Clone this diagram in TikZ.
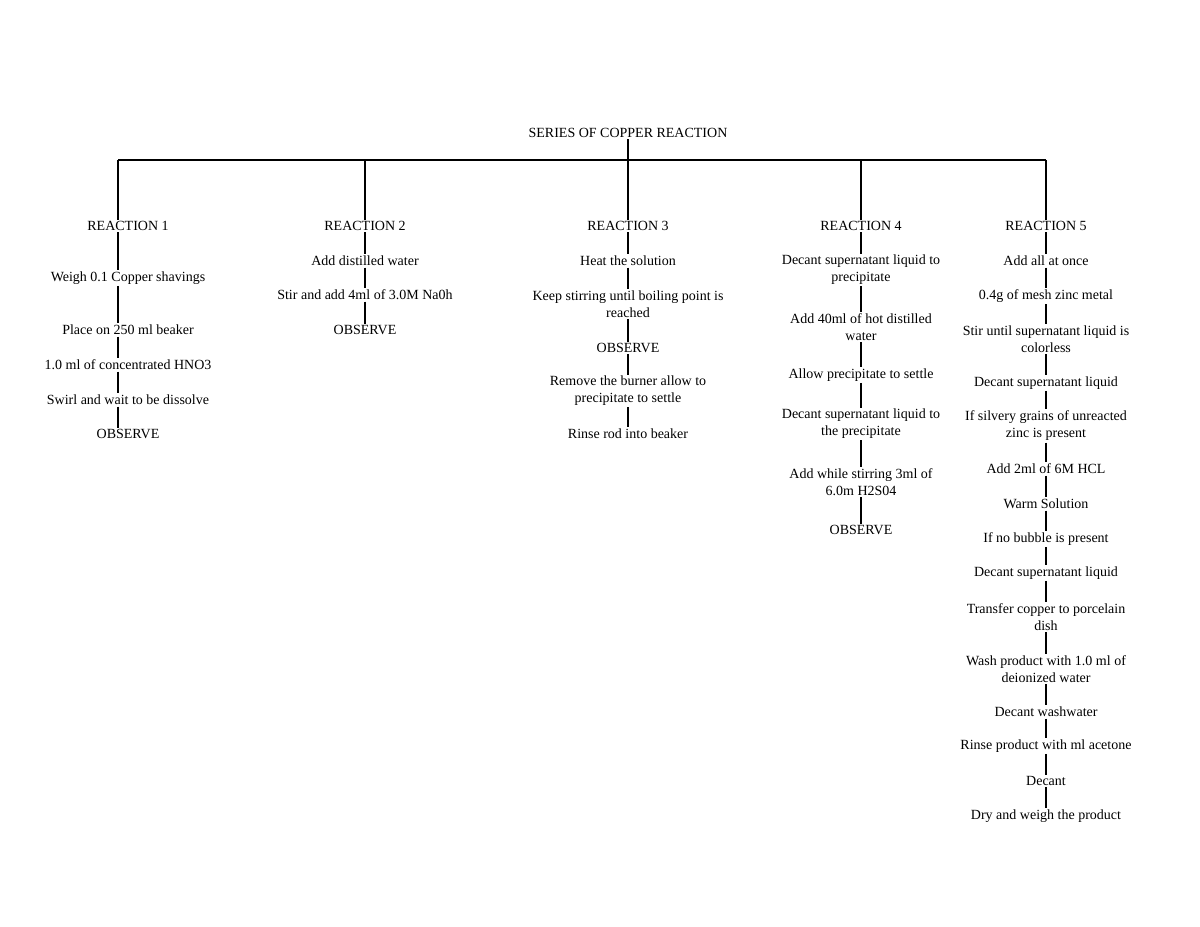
\documentclass[tikz,border=0pt]{standalone}
\usepackage{fontspec}
\setmainfont{Liberation Serif}
\begin{document}
\begin{tikzpicture}[x=0.75pt,y=-0.75pt,
  t/.style={inner sep=1pt,align=center,font=\fontsize{10.5}{12.8}\selectfont},
  ln/.style={line width=1.5pt}]
\useasboundingbox (0,0) rectangle (1200,927);
\node[t] (title) at (628,133) {SERIES OF COPPER REACTION};
\coordinate (bar) at (628,160);
\coordinate (bl) at (118,160);
\coordinate (br) at (1046,160);
\coordinate (b2) at (365,160);
\coordinate (b4) at (861,160);
% column 1
\node[t] (a0) at (128,226) {REACTION 1};
\node[t] (a1) at (128,278) {Weigh 0.1 Copper shavings};
\node[t] (a2) at (128,330) {Place on 250 ml beaker};
\node[t] (a3) at (128,365) {1.0 ml of concentrated HNO3};
\node[t] (a4) at (128,400) {Swirl and wait to be dissolve};
\node[t] (a5) at (128,434) {OBSERVE};
% column 2
\node[t] (b0) at (365,226) {REACTION 2};
\node[t] (b1) at (365,261) {Add distilled water};
\node[t] (b2n) at (365,295) {Stir and add 4ml  of 3.0M Na0h};
\node[t] (b3) at (365,330) {OBSERVE};
% column 3
\node[t] (c0) at (628,226) {REACTION 3};
\node[t] (c1) at (628,261) {Heat the solution};
\node[t] (c2) at (628,304) {Keep stirring until boiling point is\\reached};
\node[t] (c3) at (628,348) {OBSERVE};
\node[t] (c4) at (628,391) {Remove the burner allow to\\precipitate to settle};
\node[t] (c5) at (628,434) {Rinse rod into beaker};
% column 4
\node[t] (d0) at (861,226) {REACTION 4};
\node[t] (d1) at (861,270) {Decant supernatant liquid to\\precipitate};
\node[t] (d2) at (861,327) {Add 40ml of hot distilled\\water};
\node[t] (d3) at (861,375) {Allow precipitate to settle};
\node[t] (d4) at (861,424) {Decant supernatant liquid to\\the precipitate};
\node[t] (d5) at (861,482) {Add while stirring 3ml  of\\6.0m H2S04};
\node[t] (d6) at (861,530) {OBSERVE};
% column 5
\node[t] (e0) at (1046,226) {REACTION 5};
\node[t] (e1) at (1046,261) {Add all at once};
\node[t] (e2) at (1046,296) {0.4g of mesh zinc metal};
\node[t] (e3) at (1046,339) {Stir until supernatant liquid is\\colorless};
\node[t] (e4) at (1046,383) {Decant supernatant liquid};
\node[t] (e5) at (1046,426) {If silvery grains of unreacted\\zinc is present};
\node[t] (e6) at (1046,469) {Add 2ml of 6M HCL};
\node[t] (e7) at (1046,504) {Warm Solution};
\node[t] (e8) at (1046,539) {If no bubble is present};
\node[t] (e9) at (1046,573) {Decant supernatant liquid};
\node[t] (e10) at (1046,617) {Transfer copper to porcelain\\dish};
\node[t] (e11) at (1046,669) {Wash product with 1.0 ml of\\deionized water};
\node[t] (e12) at (1046,712) {Decant washwater};
\node[t] (e13) at (1046,746) {Rinse product with ml acetone};
\node[t] (e14) at (1046,781) {Decant};
\node[t] (e15) at (1046,816) {Dry and weigh the product};
% tree
\draw[ln] (title.south) -- (bar);
\draw[ln] (bl) -- (br);
\draw[ln] (bl) -- (bl |- a0.north);
\draw[ln] (b2) -- (b0.north);
\draw[ln] (bar) -- (c0.north);
\draw[ln] (b4) -- (d0.north);
\draw[ln] (br) -- (e0.north);
\foreach \u/\v in {a0/a1,a1/a2,a2/a3,a3/a4,a4/a5}
  \draw[ln] (\u.south -| bl) -- (\v.north -| bl);
\foreach \u/\v in {b0/b1,b1/b2n,b2n/b3,c0/c1,c1/c2,c2/c3,c3/c4,c4/c5,
  d0/d1,d1/d2,d2/d3,d3/d4,d4/d5,d5/d6,
  e0/e1,e1/e2,e2/e3,e3/e4,e4/e5,e5/e6,e6/e7,e7/e8,e8/e9,e9/e10,e10/e11,e11/e12,e12/e13,e13/e14,e14/e15}
  \draw[ln] (\u.south) -- (\v.north);
\end{tikzpicture}
\end{document}
